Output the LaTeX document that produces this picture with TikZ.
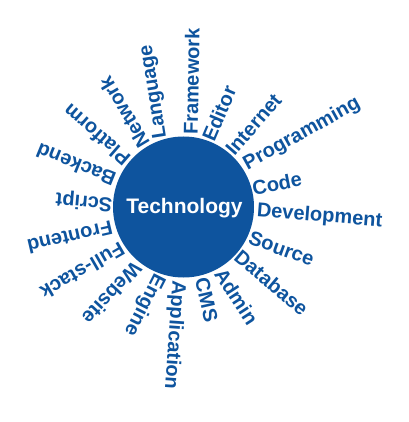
\documentclass[tikz,border=0pt]{standalone}
\usepackage{fontspec}
\setmainfont{Liberation Sans}
\definecolor{techblue}{RGB}{14,84,158}
\begin{document}
\begin{tikzpicture}[x=1pt, y=-1pt,
  word/.style={font=\fontsize{20}{20}\selectfont\bfseries, text=techblue, inner sep=0pt, anchor=center},
  hub/.style={circle, fill=techblue, minimum size=141pt, inner sep=0pt, text=white, font=\fontsize{21}{21}\selectfont\bfseries}
]
\useasboundingbox (0,0) rectangle (408,422);
\node[hub] (c) at (183.5,207) {};
\node[text=white, font=\fontsize{21}{21}\selectfont\bfseries, inner sep=0pt] (t) at (184.5,208) {Technology};
\foreach \px/\py/\ang/\w/\nm in {
  191.5/81.5/89/Framework/n1,
  219/113.5/67/Editor/n2,
  253.5/124.5/49/Internet/n3,
  302/134/29/Programming/n4,
  277/183.5/11/Code/n5,
  319.5/216.5/-4.6/Development/n6,
  281.5/248.5/-20/Source/n7,
  271.5/282.5/-40/Database/n8,
  236.5/296.5/-57/Admin/n9,
  206.5/300/-77/CMS/n10,
  174/335/-94/Application/n11,
  144/305/-117/Engine/n12,
  112/293.5/-133/Website/n13,
  82.5/271/-150/Full-stack/n14,
  70/237.5/-167/Frontend/n15,
  84/201/175/Script/n16,
  76/165/158/Backend/n17,
  96.5/135/139/Platform/n18,
  124/112.5/121/Network/n19,
  154/91.5/99/Language/n20}
  \node[word, rotate=\ang] (\nm) at (\px,\py) {\w};
\end{tikzpicture}
\end{document}
